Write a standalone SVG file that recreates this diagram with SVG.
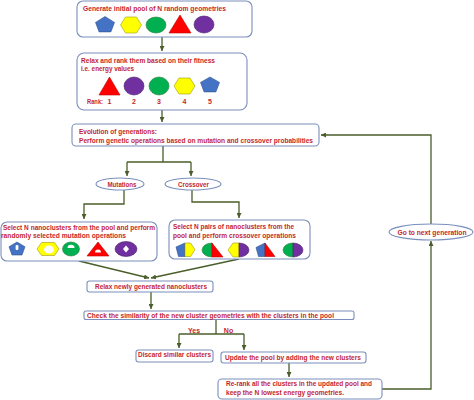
<svg xmlns="http://www.w3.org/2000/svg" width="474" height="400" viewBox="0 0 474 400">
<style>
.box{fill:#ffffff;stroke:#7a8fbd;stroke-width:1.1}
.ell{fill:#ffffff;stroke:#7a8fbd;stroke-width:1.1}
.t{font-family:"Liberation Sans",Arial,sans-serif;font-weight:bold;font-size:7px;fill:#c41f2e}
.c{fill:none;stroke:#4a5e2a;stroke-width:1.3}
.bl{fill:#4472c4;stroke:#2f528f;stroke-width:0.6}
.ye{fill:#ffff00;stroke:#9a9a10;stroke-width:0.6}
.gr{fill:#00b050;stroke:#2e7d3a;stroke-width:0.6}
.rd{fill:#ff0000;stroke:#c00000;stroke-width:0.6}
.pu{fill:#7030a0;stroke:#4f2070;stroke-width:0.6}
.wh{fill:#ffffff}
</style>
<defs>
<marker id="ah" markerUnits="userSpaceOnUse" markerWidth="5" markerHeight="5" refX="5" refY="2.5" orient="auto">
<path d="M0,0 L5,2.5 L0,5 Z" fill="#4a5e2a"/>
</marker>
</defs>

<g id="connectors">
<path class="c" d="M162,37 V51" marker-end="url(#ah)"/>
<path class="c" d="M162,110 V122" marker-end="url(#ah)"/>
<path class="c" d="M163,146 V162"/>
<path class="c" d="M127,162 H191"/>
<path class="c" d="M127,162 V176" marker-end="url(#ah)"/>
<path class="c" d="M191,162 V176" marker-end="url(#ah)"/>
<path class="c" d="M124,190 V204 H84 V219" marker-end="url(#ah)"/>
<path class="c" d="M192,190 V202 H239 V218" marker-end="url(#ah)"/>
<path class="c" d="M79,261 L149,278" marker-end="url(#ah)"/>
<path class="c" d="M239,259 L151,278" marker-end="url(#ah)"/>
<path class="c" d="M151,292 V309" marker-end="url(#ah)"/>
<path class="c" d="M216,319 V334"/>
<path class="c" d="M179,334 H244"/>
<path class="c" d="M179,334 V348" marker-end="url(#ah)"/>
<path class="c" d="M244,334 V350" marker-end="url(#ah)"/>
<path class="c" d="M289,363 V377" marker-end="url(#ah)"/>
<path class="c" d="M382,389 H431 V241" marker-end="url(#ah)"/>
<path class="c" d="M431,224 V135 H321" marker-end="url(#ah)"/>
<text class="t" x="194" y="332.5" text-anchor="middle">Yes</text>
<text class="t" x="228.5" y="332.5" text-anchor="middle">No</text>
</g>

<g id="generate">
<rect class="box" x="77" y="1" width="175" height="36" rx="6"/>
<text class="t" x="83" y="10.5" textLength="143" lengthAdjust="spacingAndGlyphs">Generate initial pool of N random geometries</text>
<polygon class="bl" points="105,16.5 114.5,22.4 110.9,31.9 99.1,31.9 95.5,22.4"/>
<polygon class="ye" points="120.5,25 125.5,17 136.5,17 141.5,25 136.5,33 125.5,33"/>
<ellipse class="gr" cx="156" cy="25" rx="10" ry="8"/>
<polygon class="rd" points="180,15 191,33 169,33"/>
<ellipse class="pu" cx="204" cy="24.5" rx="10" ry="8.5"/>
</g>

<g id="relax-rank">
<rect class="box" x="77" y="53" width="170" height="57" rx="7"/>
<text class="t" x="81" y="63" textLength="134" lengthAdjust="spacingAndGlyphs">Relax and rank them based on their fitness</text>
<text class="t" x="81" y="71" textLength="53" lengthAdjust="spacingAndGlyphs">i.e. energy values</text>
<polygon class="rd" points="109.5,77 120,95 99,95"/>
<ellipse class="pu" cx="134" cy="86" rx="10" ry="9"/>
<ellipse class="gr" cx="159" cy="86" rx="10" ry="9"/>
<polygon class="ye" points="174,86 179,78 190,78 195,86 190,94 179,94"/>
<polygon class="bl" points="210,77 219.5,82.4 215.9,91.9 204.1,91.9 200.5,82.4"/>
<text class="t" x="87" y="103.5" textLength="16" lengthAdjust="spacingAndGlyphs">Rank:</text>
<text class="t" x="109.5" y="103.5" text-anchor="middle">1</text>
<text class="t" x="134" y="103.5" text-anchor="middle">2</text>
<text class="t" x="159" y="103.5" text-anchor="middle">3</text>
<text class="t" x="184.5" y="103.5" text-anchor="middle">4</text>
<text class="t" x="210" y="103.5" text-anchor="middle">5</text>
</g>

<g id="evolution">
<rect class="box" x="72" y="124" width="247" height="22" rx="4"/>
<text class="t" x="79" y="133.5" textLength="78" lengthAdjust="spacingAndGlyphs">Evolution of generations:</text>
<text class="t" x="79" y="143" textLength="234" lengthAdjust="spacingAndGlyphs">Perform genetic  operations based on mutation and crossover probabilities</text>
</g>

<g id="mutations">
<ellipse class="ell" cx="120" cy="184" rx="24" ry="6"/>
<text class="t" x="122" y="186.5" text-anchor="middle" textLength="29" lengthAdjust="spacingAndGlyphs">Mutations</text>
</g>

<g id="crossover">
<ellipse class="ell" cx="193" cy="184" rx="28" ry="6"/>
<text class="t" x="193.5" y="186.5" text-anchor="middle" textLength="31" lengthAdjust="spacingAndGlyphs">Crossover</text>
</g>

<g id="mutation-ops">
<rect class="box" x="1" y="222" width="156" height="39" rx="6"/>
<text class="t" x="3" y="229.5" textLength="152" lengthAdjust="spacingAndGlyphs">Select N nanoclusters  from the pool and perform</text>
<text class="t" x="1" y="238" textLength="125" lengthAdjust="spacingAndGlyphs">randomly selected mutation operations</text>
<polygon class="bl" points="17,242 25,246.8 22,255 12,255 9,246.8"/>
<rect class="wh" x="15.6" y="245" width="2.8" height="5" rx="1"/>
<polygon class="ye" points="37,249 41.5,242.5 54.5,242.5 59,249 54.5,255.5 41.5,255.5"/>
<ellipse class="wh" cx="49" cy="249.5" rx="5" ry="4"/>
<ellipse class="gr" cx="71" cy="249" rx="8.5" ry="7"/>
<path class="wh" d="M67.5,248 a3.5,3.2 0 0 1 7,0 z"/>
<polygon class="rd" points="98,242 109,256 87,256"/>
<path class="wh" d="M95,252.5 a3,3 0 0 1 6,0 z"/>
<ellipse class="pu" cx="126" cy="249" rx="11" ry="7.5"/>
<polygon class="wh" points="126,245.5 129,249 126,252.5 123,249"/>
</g>

<g id="crossover-ops">
<rect class="box" x="169" y="220" width="141" height="39" rx="6"/>
<text class="t" x="173" y="228.5" textLength="121" lengthAdjust="spacingAndGlyphs">Select N pairs of nanoclusters  from the</text>
<text class="t" x="173" y="237.5" textLength="123" lengthAdjust="spacingAndGlyphs">pool and perform crossover operations</text>
<path class="bl" d="M185,243 L176,247 L178.5,256.5 L185,256.5 Z"/>
<path class="ye" d="M185,243 L190.5,243 L195,249.7 L190.5,256.5 L185,256.5 Z"/>
<path class="gr" d="M212,243 A10,7 0 0 0 212,257 Z"/>
<path class="rd" d="M212,243 L223,257 L212,257 Z"/>
<path class="ye" d="M239,243 L233,243 L228,250 L233,257 L239,257 Z"/>
<path class="pu" d="M239,243 A10,7 0 0 1 239,257 Z"/>
<path class="bl" d="M265,243 L256,247.5 L258.5,256.5 L265,256.5 Z"/>
<path class="rd" d="M265,243 L275,256.5 L265,256.5 Z"/>
<path class="gr" d="M293,243 A10,7 0 0 0 293,257 Z"/>
<path class="pu" d="M293,243 A10,7 0 0 1 293,257 Z"/>
</g>

<g id="relax-new">
<rect class="box" x="87" y="281" width="126" height="11" rx="2.5"/>
<text class="t" x="95" y="288.8" textLength="112" lengthAdjust="spacingAndGlyphs">Relax newly generated nanoclusters</text>
</g>

<g id="check">
<rect class="box" x="84" y="311" width="270" height="8.5" rx="2"/>
<text class="t" x="87" y="317.8" textLength="247" lengthAdjust="spacingAndGlyphs">Check the similarity  of the new cluster geometries with the clusters in the pool</text>
</g>

<g id="discard">
<rect class="box" x="136" y="350" width="77" height="12" rx="2.5"/>
<text class="t" x="138" y="357" textLength="73" lengthAdjust="spacingAndGlyphs">Discard  similar clusters</text>
</g>

<g id="update">
<rect class="box" x="221" y="352" width="145" height="11" rx="2.5"/>
<text class="t" x="225" y="360" textLength="136" lengthAdjust="spacingAndGlyphs">Update the pool by adding the new clusters</text>
</g>

<g id="rerank">
<rect class="box" x="218" y="379" width="164" height="20" rx="4"/>
<text class="t" x="226" y="385.5" textLength="146" lengthAdjust="spacingAndGlyphs">Re-rank all the clusters in the updated pool and</text>
<text class="t" x="226" y="394.5" textLength="118" lengthAdjust="spacingAndGlyphs">keep the N lowest energy geometries.</text>
</g>

<g id="next-generation">
<ellipse class="ell" cx="431" cy="232" rx="42" ry="8"/>
<text class="t" x="432" y="234.5" text-anchor="middle" textLength="69" lengthAdjust="spacingAndGlyphs">Go to next generation</text>
</g>
</svg>
